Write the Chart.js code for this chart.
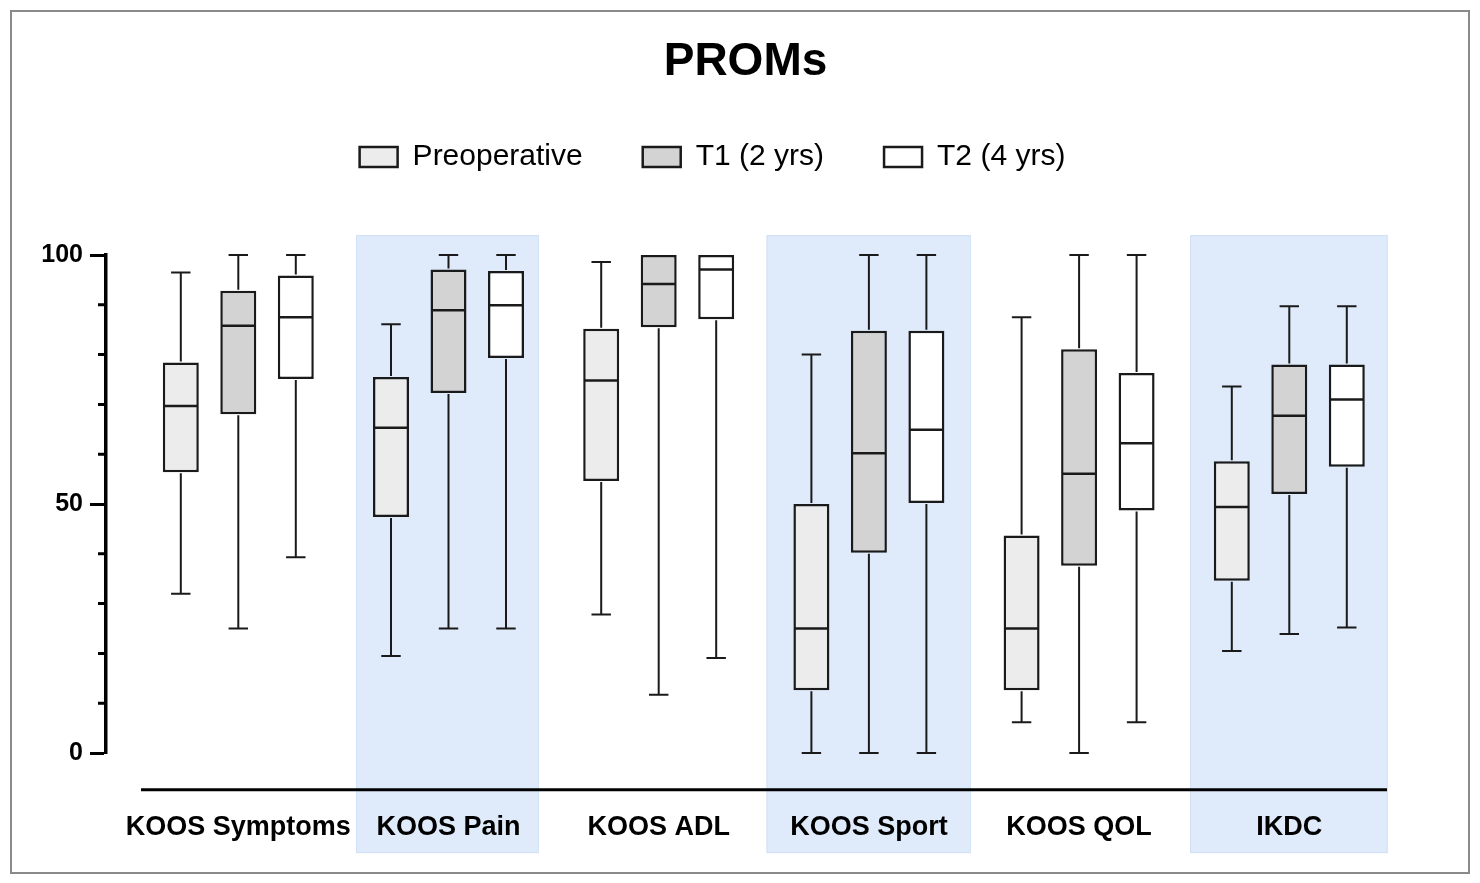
<!DOCTYPE html>
<html>
<head>
<meta charset="utf-8">
<script src="https://cdn.jsdelivr.net/npm/chart.js@4.4.1/dist/chart.umd.min.js"></script>
<style>
  html, body { margin: 0; padding: 0; background: #ffffff; }
  #wrap { width: 1480px; height: 883px; position: relative; }
</style>
</head>
<body>
<div id="wrap"><canvas id="c" width="1480" height="883"></canvas></div>
<script>
// ---------------- DATA ----------------
const categories = ['KOOS Symptoms', 'KOOS Pain', 'KOOS ADL', 'KOOS Sport', 'KOOS QOL', 'IKDC'];
const seriesNames = ['Preoperative', 'T1 (2 yrs)', 'T2 (4 yrs)'];

// Preoperative
const preMin = [32.0, 19.5, 27.8, 0, 6.2, 20.5];
const preQ1  = [56.4, 47.4, 54.6, 12.6, 12.6, 34.6];
const preMed = [69.7, 65.3, 74.8, 25.0, 25.0, 49.4];
const preQ3  = [78.4, 75.5, 85.2, 50.0, 43.7, 58.6];
const preMax = [96.5, 86.1, 98.6, 80.0, 87.5, 73.6];

// T1 (2 yrs)
const t1Min = [25.0, 25.0, 11.7, 0, 0, 23.9];
const t1Q1  = [68.0, 72.3, 85.5, 40.2, 37.6, 52.0];
const t1Med = [85.8, 88.9, 94.2, 60.2, 56.1, 67.7];
const t1Q3  = [92.8, 97.1, 100, 84.8, 81.1, 78.0];
const t1Max = [100, 100, 100, 100, 100, 89.7];

// T2 (4 yrs)
const t2Min = [39.3, 25.0, 19.1, 0, 6.2, 25.2];
const t2Q1  = [75.1, 79.3, 87.1, 50.2, 48.7, 57.5];
const t2Med = [87.5, 89.9, 97.1, 64.9, 62.2, 71.0];
const t2Q3  = [95.9, 96.8, 100, 84.8, 76.3, 78.0];
const t2Max = [100, 100, 100, 100, 100, 89.7];

const yMajorTicks = [0, 50, 100];
const yMinorTicks = [10, 20, 30, 40, 60, 70, 80, 90];
const shadedGroups = [1, 3, 5];

// ---------------- STYLE ----------------
const fillColors = ['#ececec', '#d3d3d3', '#ffffff'];
const edgeColor = '#1a1a1a';
const FONT = "'Liberation Sans', Arial, Helvetica, sans-serif";
const BAND_EXTENT = { 1: [-0.44, 0.43], 3: [-0.487, 0.485], 5: [-0.472, 0.468] };
const BAND_TOP = 104, BAND_BOTTOM = -20.1;
const AXIS_LINE_Y = -7.4, AXIS_LINE_FROM = -0.463, AXIS_LINE_TO = 5.465;

const stats = [
  { min: preMin, q1: preQ1, med: preMed, q3: preQ3, max: preMax },
  { min: t1Min,  q1: t1Q1,  med: t1Med,  q3: t1Q3,  max: t1Max },
  { min: t2Min,  q1: t2Q1,  med: t2Med,  q3: t2Q3,  max: t2Max }
];

const datasets = stats.map((s, di) => ({
  label: seriesNames[di],
  data: categories.map((c, i) => ({ x: i, y: [s.q1[i], s.q3[i]] })),
  backgroundColor: fillColors[di],
  borderColor: edgeColor,
  borderWidth: 2.5,
  borderSkipped: false,
  categoryPercentage: 0.8206,
  barPercentage: 0.626,
  clip: false
}));

const decor = {
  id: 'decor',
  beforeInit(chart) {
    Chart.layouts.addBox(chart, {
      position: 'top', weight: 500, fullSize: true, options: {},
      left: 0, top: 0, right: 0, bottom: 0, width: 0, height: 0,
      isHorizontal() { return true; },
      update(maxWidth) { this.width = maxWidth; this.height = 73; },
      getPadding() { return { top: 0, left: 0, right: 0, bottom: 0 }; },
      draw() {}
    });
  },
  beforeDraw(chart) {
    const { ctx, scales: { x, y } } = chart;
    ctx.save();
    // outer frame
    ctx.strokeStyle = '#8a8a8a';
    ctx.lineWidth = 2;
    ctx.strokeRect(11, 11, chart.width - 22, chart.height - 21);
    // shaded bands
    const yt = y.getPixelForValue(BAND_TOP), yb = y.getPixelForValue(BAND_BOTTOM);
    shadedGroups.forEach(g => {
      const ext = BAND_EXTENT[g];
      const x0 = x.getPixelForValue(g + ext[0]), x1 = x.getPixelForValue(g + ext[1]);
      ctx.fillStyle = '#dfebfb';
      ctx.fillRect(x0, yt, x1 - x0, yb - yt);
      ctx.strokeStyle = '#d2e1f5';
      ctx.lineWidth = 1;
      ctx.strokeRect(x0 + 0.5, yt + 0.5, x1 - x0 - 1, yb - yt - 1);
    });
    ctx.restore();
  },
  afterDatasetsDraw(chart) {
    const { ctx, scales: { y } } = chart;
    ctx.save();
    ctx.strokeStyle = edgeColor;
    ctx.lineCap = 'butt';
    chart.data.datasets.forEach((ds, di) => {
      const meta = chart.getDatasetMeta(di);
      const s = stats[di];
      meta.data.forEach((bar, i) => {
        const cx = bar.x, half = bar.width / 2, cap = bar.width * 0.27;
        const yMin = y.getPixelForValue(s.min[i]);
        const yQ1 = y.getPixelForValue(s.q1[i]);
        const yMed = y.getPixelForValue(s.med[i]);
        const yQ3 = y.getPixelForValue(s.q3[i]);
        const yMax = y.getPixelForValue(s.max[i]);
        ctx.lineWidth = 2;
        ctx.beginPath();
        if (s.max[i] > s.q3[i]) {
          ctx.moveTo(cx, yQ3 - 1); ctx.lineTo(cx, yMax);
          ctx.moveTo(cx - cap, yMax); ctx.lineTo(cx + cap, yMax);
        }
        if (s.min[i] < s.q1[i]) {
          ctx.moveTo(cx, yQ1 + 1); ctx.lineTo(cx, yMin);
          ctx.moveTo(cx - cap, yMin); ctx.lineTo(cx + cap, yMin);
        }
        ctx.stroke();
        ctx.lineWidth = 2.5;
        ctx.beginPath();
        ctx.moveTo(cx - half + 1, yMed); ctx.lineTo(cx + half - 1, yMed);
        ctx.stroke();
      });
    });
    ctx.restore();
  },
  afterDraw(chart) {
    const { ctx, scales: { x, y }, chartArea } = chart;
    ctx.save();
    ctx.strokeStyle = '#000';
    // minor y ticks
    ctx.lineWidth = 3;
    ctx.beginPath();
    yMinorTicks.forEach(v => {
      const py = y.getPixelForValue(v);
      ctx.moveTo(chartArea.left - 8, py); ctx.lineTo(chartArea.left, py);
    });
    ctx.stroke();
    // horizontal base line
    const ly = y.getPixelForValue(AXIS_LINE_Y);
    ctx.lineWidth = 3;
    ctx.beginPath();
    ctx.moveTo(x.getPixelForValue(AXIS_LINE_FROM), ly);
    ctx.lineTo(x.getPixelForValue(AXIS_LINE_TO), ly);
    ctx.stroke();
    ctx.restore();
  }
};

new Chart(document.getElementById('c'), {
  type: 'bar',
  data: { datasets },
  options: {
    responsive: false,
    animation: false,
    devicePixelRatio: 1,
    layout: { padding: { left: 40, right: 95, top: 0, bottom: 40 } },
    plugins: {
      title: {
        display: true,
        text: 'PROMs',
        fullSize: false,
        color: '#000',
        font: { family: FONT, size: 46, weight: 'bold', lineHeight: 0.87 },
        padding: { top: 42, bottom: 0 }
      },
      legend: {
        display: true,
        position: 'top',
        labels: {
          color: '#000',
          font: { family: FONT, size: 30 },
          boxWidth: 38,
          boxHeight: 20,
          padding: 60
        }
      },
      tooltip: { enabled: false }
    },
    scales: {
      x: {
        type: 'linear',
        min: -0.6294,
        max: 5.4553,
        offset: false,
        afterFit(scale) { scale.height = 90; },
        afterBuildTicks(scale) { scale.ticks = categories.map((c, i) => ({ value: i })); },
        grid: { display: false, drawTicks: false },
        border: { display: false },
        ticks: {
          autoSkip: false,
          maxRotation: 0,
          padding: 58.5,
          color: '#000',
          font: { family: FONT, size: 27, weight: 'bold' },
          callback: (v) => categories[v]
        }
      },
      y: {
        type: 'linear',
        min: 0,
        max: 100,
        afterFit(scale) { scale.width = 66; },
        afterBuildTicks(scale) { scale.ticks = yMajorTicks.map(v => ({ value: v })); },
        grid: { drawOnChartArea: false, drawTicks: true, tickLength: 16, tickWidth: 3, tickColor: '#000' },
        border: { display: true, color: '#000', width: 3.5 },
        ticks: {
          padding: 7,
          color: '#000',
          font: { family: FONT, size: 25, weight: 'bold' }
        }
      }
    }
  },
  plugins: [decor]
});
</script>
</body>
</html>
